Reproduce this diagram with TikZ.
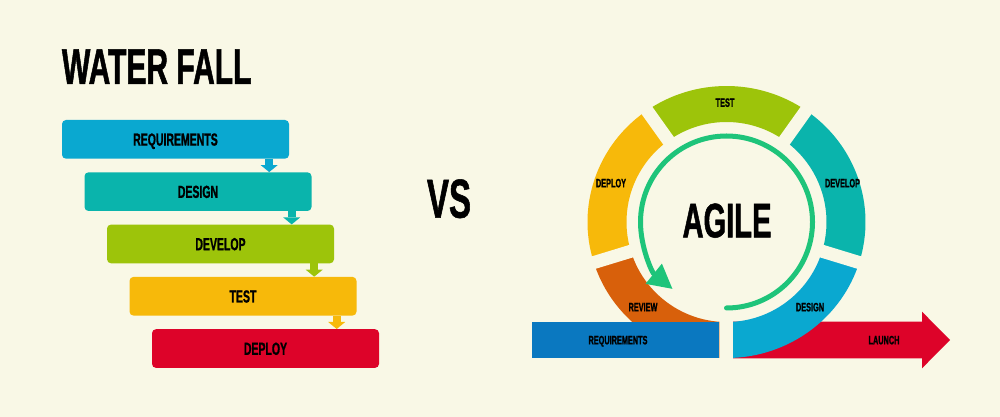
\documentclass[tikz,border=0pt]{standalone}
\usepackage{fontspec}
\newfontfamily\din{Liberation Sans}[FakeStretch=0.6,FakeBold=1]
\usetikzlibrary{arrows.meta,calc}
\definecolor{bg}{HTML}{F9F8E6}
\definecolor{cblue}{HTML}{0AA8D0}
\definecolor{cteal}{HTML}{0AB4AC}
\definecolor{cgreen}{HTML}{9DC40A}
\definecolor{cyellow}{HTML}{F7B90A}
\definecolor{cred}{HTML}{DD0329}
\definecolor{corange}{HTML}{D8600B}
\definecolor{cdblue}{HTML}{0A78C0}
\definecolor{carrow}{HTML}{1EC47A}
\begin{document}
\begin{tikzpicture}[x=1pt,y=1pt,
  wfbox/.style={rounded corners=4pt, minimum width=227pt, minimum height=38.7pt, inner sep=0pt,
    font={\din\bfseries\fontsize{17.5pt}{17.5pt}\selectfont}, text height=12.5pt, text depth=0pt},
  wfarrow/.style={line width=8.3pt, -{Triangle[width=17pt,length=7pt,line width=0pt]}},
  bigtext/.style={inner sep=0pt, text depth=0pt},
  lbl/.style={inner sep=0pt, font={\din\bfseries\fontsize{12.2pt}{12.2pt}\selectfont}, text height=8.7pt, text depth=0pt},
  gapline/.style={draw=bg, line width=13pt}
]
\fill[bg] (0,0) rectangle (1000,417);
\useasboundingbox (0,0) rectangle (1000,417);

% ---------- WATERFALL ----------
\node[bigtext, font={\din\bfseries\fontsize{50pt}{50pt}\selectfont}, text height=35.8pt] (title) at (156.7,351) {WATER FALL};

\node[wfbox, fill=cblue]   (wf1) at (175.5,277.65) {REQUIREMENTS};
\node[wfbox, fill=cteal]   (wf2) at (198.0,225.35) {DESIGN};
\node[wfbox, fill=cgreen]  (wf3) at (220.5,173.05) {DEVELOP};
\node[wfbox, fill=cyellow] (wf4) at (243.0,120.75) {TEST};
\node[wfbox, fill=cred]    (wf5) at (265.5,68.45) {DEPLOY};

\draw[wfarrow, cblue]   ([xshift=-20pt]wf1.south east) -- ([xshift=-20pt]wf1.south east |- wf2.north);
\draw[wfarrow, cteal]   ([xshift=-20pt]wf2.south east) -- ([xshift=-20pt]wf2.south east |- wf3.north);
\draw[wfarrow, cgreen]  ([xshift=-20pt]wf3.south east) -- ([xshift=-20pt]wf3.south east |- wf4.north);
\draw[wfarrow, cyellow] ([xshift=-20pt]wf4.south east) -- ([xshift=-20pt]wf4.south east |- wf5.north);

% ---------- VS ----------
\node[bigtext, font={\din\bfseries\fontsize{55pt}{55pt}\selectfont}, text height=39.4pt] (vs) at (449,219) {VS};

% ---------- AGILE ----------
% launch arrow
\fill[cred] (733,95.3) -- (922,95.3) -- (922,105.3) -- (950,77) -- (922,48.7) -- (922,58.7) -- (733,58.7) -- cycle;

\begin{scope}[shift={(726.5,195)}]
  % design (clipped)
  \begin{scope}
    \clip (6.5,-200) rectangle (300,200);
    \fill[cblue] (-17:139 and 136) arc[start angle=-17, end angle=-100, x radius=139, y radius=136]
      -- (-100:100) arc[start angle=-100, end angle=-17, radius=100] -- cycle;
  \end{scope}
  % review (clipped)
  \begin{scope}
    \clip (-7.2,-200) rectangle (-300,200);
    \fill[corange] (197:139 and 136) arc[start angle=197, end angle=280, x radius=139, y radius=136]
      -- (280:100) arc[start angle=280, end angle=197, radius=100] -- cycle;
  \end{scope}
  \fill[cteal] (-17:139 and 136) arc[start angle=-17, end angle=54.5, x radius=139, y radius=136]
      -- (54.5:100) arc[start angle=54.5, end angle=-17, radius=100] -- cycle;
  \fill[cgreen] (54.5:139 and 136) arc[start angle=54.5, end angle=125.5, x radius=139, y radius=136]
      -- (125.5:100) arc[start angle=125.5, end angle=54.5, radius=100] -- cycle;
  \fill[cyellow] (125.5:139 and 136) arc[start angle=125.5, end angle=197, x radius=139, y radius=136]
      -- (197:100) arc[start angle=197, end angle=125.5, radius=100] -- cycle;
  % gaps
  \foreach \a in {-17,54.5,125.5,197} {
    \draw[gapline] (\a:92) -- (\a:150);
  }
  % green cycle arrow
  \coordinate (gs) at (-90:86);
  \draw[carrow, line width=5pt, line cap=round, -{Triangle[width=26pt,length=24pt,line width=0pt]}]
    (gs) arc[start angle=-90, end angle=231, radius=86];
\end{scope}

% requirements bar
\fill[cdblue] (532,58.7) rectangle (719.3,95.3);

% labels
\node[bigtext, font={\din\bfseries\fontsize{48.5pt}{48.5pt}\selectfont}, text height=34.7pt] (agile) at (727,197) {AGILE};
\node[lbl] (lTest)    at (725,314.5) {TEST};
\node[lbl] (lDeploy)  at (611,234) {DEPLOY};
\node[lbl] (lDevelop) at (842.5,234) {DEVELOP};
\node[lbl] (lReview)  at (643,110) {REVIEW};
\node[lbl] (lDesign)  at (810,110) {DESIGN};
\node[lbl] (lReq)     at (618,77) {REQUIREMENTS};
\node[lbl] (lLaunch)  at (884,77) {LAUNCH};
\end{tikzpicture}
\end{document}
